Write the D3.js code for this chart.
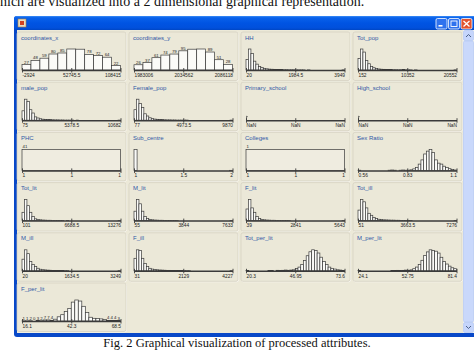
<!DOCTYPE html>
<html><head><meta charset="utf-8">
<script src="https://cdn.jsdelivr.net/npm/d3@7/dist/d3.min.js"></script>
<style>body{margin:0;background:#fff;} svg{display:block;}</style>
</head><body>
<svg id="c" width="474" height="358"></svg>
<script>
// ---------- data ----------
const attributes = ["coordinates_x","coordinates_y","HH","Tot_pop","male_pop","Female_pop","Primary_school","High_school","PHC","Sub_centre","Colleges","Sex Ratio","Tot_lit","M_lit","F_lit","Tot_ill","M_ill","F_ill","Tot_per_lit","M_per_lit","F_per_lit"];
const minLabels = ["-2924","1983006","20","152","75","77","NaN","NaN","1","1","1","0.56","101","55","39","51","20","31","20.3","24.1","16.1"];
const midLabels = ["52745.5","2034562","1984.5","10352","5378.5","4973.5","NaN","NaN","1","1.5","1","0.83","6688.5","3844","2841","3663.5","1634.5","2129","46.95","52.75","42.3"];
const maxLabels = ["108415","2086118","3949","20552","10682","9870","NaN","NaN","1","2","1","1.1","13276","7633","5643","7276","3249","4227","73.6","81.4","68.5"];

const coordinates_x = [27,48,59,80,85,105,104,78,72,64,22];
const coordinates_y = [26,37,61,74,79,95,103,104,89,51,28];
const HH = [95,190,148,80,53,32,23,15,11,8, 7,6,5,4,4,3,3,2,2,2, 1,1,1,1,0,1,0,0,0,0, 0,0,0,0,0,0,0,0,0,1];
const Tot_pop = [100,185,158,85,55,30,20,13,9,7, 6,5,4,4,3,3,2,3,4,2, 1,1,0,1,0,0,0,0,0,0, 0,0,0,0,0,0,0,0,0,1];
const male_pop = [85,190,170,95,65,30,20,13,9,7, 5,5,4,3,3,2,2,1,1,1, 1,0,1,0,0,0,0,0,0,0, 0,0,0,0,0,0,0,0,0,1];
const Female_pop = [95,190,150,115,58,38,22,14,10,8, 6,5,4,3,3,2,2,1,1,1, 1,1,0,0,0,0,0,0,0,0, 0,0,0,0,0,0,0,0,0,1];
const Primary_school = [];
const High_school = [];
const PHC = [41];
const Sub_centre = [744,0,0,0,0,0,0,0,0,0, 0,0,0,0,0,0,0,0,0,0, 0,0,0,0,0,0,0,0,0,0, 0,3];
const Colleges = [1];
const Sex_Ratio = [1,0,0,0,0,0,0,0,0,0, 0,1,2,1,0,1,2,1,1,3, 8,16,33,55,86,101,110,94,55,38, 33,22,16,9,4,2];
const Tot_lit = [75,190,135,75,38,16,10,7,5,4, 3,3,2,2,1,1,1,0,1,0, 0,0,0,0,0,0,0,0,0,0, 0,0,0,0,0,0,0,0,0,1];
const M_lit = [85,190,152,85,38,18,10,7,5,4, 3,3,2,2,1,1,1,1,0,0, 0,0,0,0,0,0,0,0,0,0, 0,0,0,0,0,0,0,0,0,1];
const F_lit = [105,190,115,75,38,18,10,7,5,4, 3,3,2,2,2,1,1,1,0,0, 0,0,0,0,0,0,0,0,0,0, 0,0,0,0,0,0,0,0,0,1];
const Tot_ill = [95,190,170,115,66,48,28,19,12,9, 7,6,5,4,4,3,3,2,2,1, 1,1,0,0,0,0,0,0,0,0, 0,0,0,0,0,0,0,0,0,1];
const M_ill = [105,190,155,85,57,38,23,14,10,8, 6,5,4,3,3,2,2,1,1,0, 0,0,0,0,0,0,0,0,0,0, 0,0,0,0,0,0,0,0,0,1];
const F_ill = [110,185,180,110,65,38,22,15,11,9, 7,6,5,4,4,3,3,2,2,2, 1,1,1,0,0,0,0,0,0,0, 0,0,0,0,0,0,0,0,0,1];
const Tot_per_lit = [1,0,0,0,0,0,0,0,1,1, 0,2,1,2,3,2,3,4,9,15, 26,42,61,77,85,82,72,55,38,26, 15,10,7,4,3,1];
const M_per_lit = [1,0,0,0,0,0,0,0,0,0, 0,0,1,1,2,1,2,3,2,4, 9,16,27,45,65,81,90,87,84,76, 58,40,29,20,13,9];
const F_per_lit = [1,1,2,0,3,2,7,7,4,12, 28,42,63,84,126,140,133,98,56,25, 18,17,14,10,4,4,4,3];

const histograms = [coordinates_x,coordinates_y,HH,Tot_pop,male_pop,Female_pop,Primary_school,High_school,PHC,Sub_centre,Colleges,Sex_Ratio,Tot_lit,M_lit,F_lit,Tot_ill,M_ill,F_ill,Tot_per_lit,M_per_lit,F_per_lit];

const topText = "nich are visualized into a 2 dimensional graphical representation.";
const caption = "Fig. 2 Graphical visualization of processed attributes.";

// ---------- drawing ----------
const svg = d3.select("#c");
const defs = svg.append("defs");
const g1 = defs.append("linearGradient").attr("id","tb").attr("x1",0).attr("y1",0).attr("x2",0).attr("y2",1);
[["0","#3d8ef7"],["0.12","#0a62ea"],["0.5","#0054e3"],["0.85","#0150dc"],["1","#0046c4"]].forEach(s=>g1.append("stop").attr("offset",s[0]).attr("stop-color",s[1]));

svg.append("text").attr("x",0).attr("y",6).attr("font-family","Liberation Serif").attr("font-size",14).attr("fill","#111").text(topText);

// window
const W = {x:14, y:16, w:462, h:321};
svg.append("rect").attr("x",W.x).attr("y",W.y).attr("width",W.w).attr("height",W.h).attr("rx",3).attr("fill","#0848c8");
svg.append("rect").attr("x",W.x).attr("y",W.y).attr("width",W.w).attr("height",14).attr("rx",3).attr("fill","url(#tb)");
svg.append("rect").attr("x",17).attr("y",30).attr("width",457).attr("height",303).attr("fill","#ece9d8");
// icon
svg.append("rect").attr("x",18).attr("y",19).attr("width",8).attr("height",8).attr("fill","#e8dcc0").attr("stroke","#b08040").attr("stroke-width",0.6);
svg.append("rect").attr("x",20).attr("y",21).attr("width",4).attr("height",4).attr("fill","#d04020");
// buttons
function btn(x, red){
  svg.append("rect").attr("x",x).attr("y",18.5).attr("width",11).attr("height",10.5).attr("rx",1.5)
    .attr("fill", red ? "#e2532f" : "#2f72ee").attr("stroke","#fff").attr("stroke-width",0.8);
}
btn(436,false); btn(448.5,false); btn(461,true);
svg.append("rect").attr("x",438.5).attr("y",25).attr("width",4).attr("height",1.6).attr("fill","#fff");
svg.append("rect").attr("x",451).attr("y",21).attr("width",6).attr("height",5.5).attr("fill","none").attr("stroke","#fff").attr("stroke-width",0.9);
svg.append("path").attr("d","M463.5,21 L469.5,26.5 M469.5,21 L463.5,26.5").attr("stroke","#fff").attr("stroke-width",1.3);

// scrollbar
svg.append("rect").attr("x",463).attr("y",30).attr("width",11).attr("height",303).attr("fill","#f4f3ee");
svg.append("rect").attr("x",463.5).attr("y",41).attr("width",10).attr("height",281).attr("rx",1.5).attr("fill","#c9d8fb").attr("stroke","#b4c8f4").attr("stroke-width",0.7);
svg.append("rect").attr("x",463.5).attr("y",30.5).attr("width",10).attr("height",10).attr("rx",1.5).attr("fill","#c5d5fc").attr("stroke","#b4c8f4").attr("stroke-width",0.7);
svg.append("rect").attr("x",463.5).attr("y",322.5).attr("width",10).attr("height",10).attr("rx",1.5).attr("fill","#c5d5fc").attr("stroke","#b4c8f4").attr("stroke-width",0.7);
svg.append("path").attr("d","M466,37 L468.5,34.5 L471,37").attr("fill","none").attr("stroke","#4d6185").attr("stroke-width",1);
svg.append("path").attr("d","M466,326 L468.5,328.5 L471,326").attr("fill","none").attr("stroke","#4d6185").attr("stroke-width",1);

// panels
const colX = [17,129,241,353];
const panelW = 109, panelH = 48.5, rowTop = 32, rowPitch = 50.2;
const cntFont = 4.3;
const panels = svg.append("g");

attributes.forEach((name, k) => {
  const c = k % 4, r = Math.floor(k / 4);
  const L = colX[c], T = rowTop + r * rowPitch;
  const g = panels.append("g");
  g.append("rect").attr("x",L+0.5).attr("y",T+0.5).attr("width",panelW).attr("height",panelH).attr("rx",2)
    .attr("fill","none").attr("stroke","#fbfaf6").attr("stroke-width",0.8);
  g.append("rect").attr("x",L).attr("y",T).attr("width",panelW).attr("height",panelH).attr("rx",2)
    .attr("fill","#ebe8d8").attr("stroke","#d3cfbf").attr("stroke-width",0.7);
  g.append("text").attr("x",L+4).attr("y",T+7.5).attr("font-family","Liberation Sans").attr("font-size",6)
    .attr("fill","#2f57a6").text(name);

  const x0 = L + 5, x1 = L + 103.5, axisY = T + 38;
  const counts = histograms[k];
  const n = counts.length;
  if (n > 0) {
    const max = d3.max(counts);
    const xb = d3.scaleBand().domain(d3.range(n)).range([x0, x1]).padding(0);
    const y = d3.scaleLinear().domain([0, max]).range([axisY, axisY - 21]);
    g.selectAll("rect.bar").data(counts).join("rect").attr("class","bar")
      .attr("x",(d,i)=>xb(i)).attr("width",xb.bandwidth())
      .attr("y",d=>y(d)).attr("height",d=>axisY - y(d))
      .attr("fill", n === 1 ? "#efece0" : "#fbfbf8").attr("stroke","#3a3a3a").attr("stroke-width",0.7);
    const bw = xb.bandwidth();
    const labelled = counts.map((d,i) => {
      const tw = String(d).length * 0.556 * cntFont;
      if (n === 1) return true;
      if (tw + 1 > bw) return false;
      if (d >= 0.92 * max) return false;
      if (d === 0) return i > 0 && i < n-1 && counts[i-1] > 0 && counts[i+1] > 0;
      return true;
    });
    g.selectAll("text.cnt").data(counts.map((d,i)=>({d,i})).filter(o=>labelled[o.i])).join("text").attr("class","cnt")
      .attr("x",o => n === 1 ? xb(o.i) + 0.5 : xb(o.i) + bw/2)
      .attr("y",o => y(o.d) - 1)
      .attr("text-anchor", n === 1 ? "start" : "middle")
      .attr("font-family","Liberation Sans").attr("font-size",cntFont).attr("fill","#222")
      .text(o => o.d);
  } else {
    g.append("path").attr("d",`M${x0+0.5},${axisY} L${x0+0.5},${axisY-4} L${x0+1.8},${axisY-3.4}`)
      .attr("fill","none").attr("stroke","#3a3a3a").attr("stroke-width",0.7);
  }

  const labels = [minLabels[k], midLabels[k], maxLabels[k]];
  const xa = d3.scaleLinear().domain([0,2]).range([x0, x1]);
  const axis = d3.axisBottom(xa).tickValues([0,1,2]).tickFormat(i => labels[i]).tickSizeOuter(0).tickSizeInner(3).tickPadding(2);
  const ag = g.append("g").attr("transform",`translate(0,${axisY})`).call(axis);
  ag.select(".domain").attr("stroke","#3a3a3a").attr("stroke-width",1.5);
  ag.selectAll(".tick line").attr("stroke","#3a3a3a").attr("stroke-width",0.9).attr("y1",-2).attr("y2",2.5);
  ag.selectAll(".tick text").attr("font-family","Liberation Sans").attr("font-size",4.8).attr("fill","#222")
    .attr("text-anchor",(d)=> d===0 ? "start" : d===2 ? "end" : "middle").attr("dy","0.5em").attr("y",4.5);
});

svg.append("text").attr("x",237).attr("y",347).attr("text-anchor","middle").attr("font-family","Liberation Serif")
  .attr("font-size",12.5).attr("fill","#111").text(caption);
</script>
</body></html>
